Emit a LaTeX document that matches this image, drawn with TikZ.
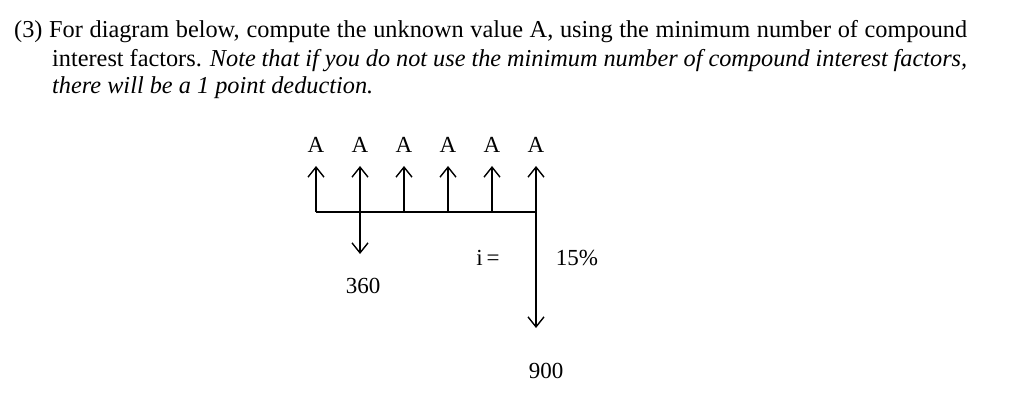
\documentclass[tikz,border=0pt]{standalone}
\usepackage{fontspec}
\setmainfont{Liberation Serif}
\usetikzlibrary{arrows.meta}
\tikzset{
  txt/.style={inner sep=0pt, anchor=base west, font=\fontsize{24.3}{29}\selectfont},
  lbl/.style={inner sep=0pt, anchor=base, font=\fontsize{23}{27}\selectfont},
  flow/.style={line width=1.6pt, -{Straight Barb[length=10pt,width=16pt,line width=1.4pt]}},
}
\begin{document}
\begin{tikzpicture}[x=1pt,y=-1pt]
\useasboundingbox (0,0) rectangle (1024,414);
% question text
\node[txt] (q1) at (14,38) {\makebox[953pt][s]{(3) For diagram below, compute the unknown value A, using the minimum number of compound}};
\node[txt] (q2) at (52,67) {\makebox[915pt][s]{interest factors. \textit{Note that if you do not use the minimum number of compound interest factors,}}};
\node[txt] (q3) at (52,94) {\textit{there will be a 1 point deduction.}};
% cash flow diagram
\coordinate (t0) at (316,212);
\coordinate (t5) at (536,212);
\foreach \x [count=\k] in {316,360,404,448,492,536}{
  \coordinate (b\k) at (\x,212);
  \coordinate (u\k) at (\x,166);
  \node[lbl] (a\k) at (\x,153) {A};
  \draw[flow] (b\k) -- (u\k);
}
\draw[line width=1.6pt] (t0) -- (t5);
\coordinate (top2) at (360,190);
\coordinate (d2) at (360,254);
\draw[flow] (top2) -- (d2);
\coordinate (d6) at (536,328);
\draw[flow] (t5) -- (d6);
\node[lbl] (c360) at (363,293) {360};
\node[lbl] (c900) at (546,378) {900};
\node[lbl] (rate) at (488,265) {i\,=};
\node[lbl] (pct) at (577,265) {15\%};
\end{tikzpicture}
\end{document}
